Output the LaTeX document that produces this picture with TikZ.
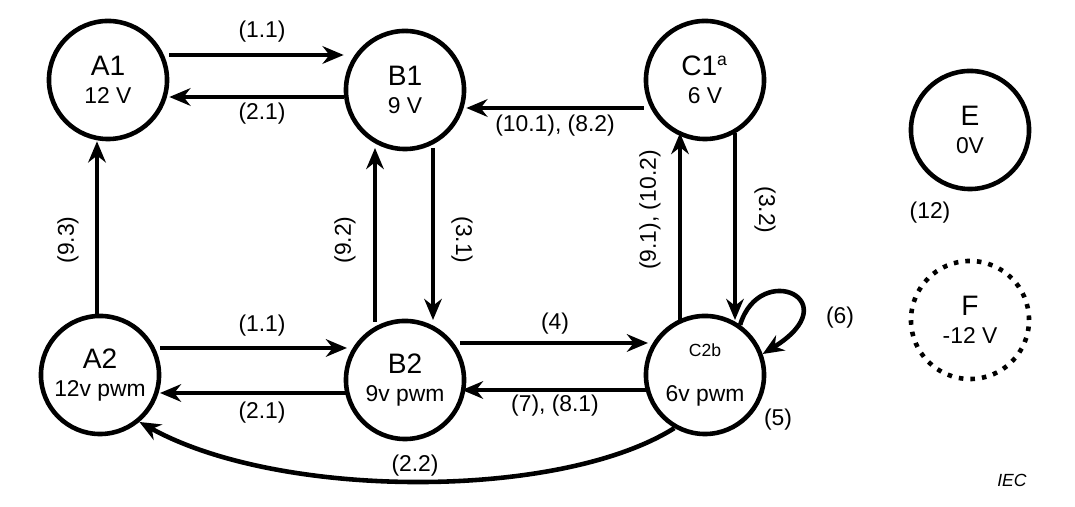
\documentclass[tikz,border=0pt]{standalone}
\usepackage{fontspec}
\setmainfont{Liberation Sans}
\usetikzlibrary{arrows.meta}
\begin{document}
\begin{tikzpicture}[x=0.01cm,y=-0.01cm,
  st/.style={circle,draw,line width=1.3pt,minimum size=1.18cm,inner sep=0pt,align=center,font=\fontsize{8}{9}\selectfont},
  ar/.style={line width=1.3pt,-{Stealth[length=6pt,width=5pt]}},
  lb/.style={font=\fontsize{6.5}{7}\selectfont}]
\useasboundingbox (0,0) rectangle (1075,507);
\node[st] (A1) at (108,80) {A1\\[-1pt]{\fontsize{6.5}{7}\selectfont 12 V}};
\node[st] (B1) at (405,90) {B1\\[-1pt]{\fontsize{6.5}{7}\selectfont 9 V}};
\node[st] (C1) at (705,80) {C1\textsuperscript{\fontsize{5}{5}\selectfont a}\\[-1pt]{\fontsize{6.5}{7}\selectfont 6 V}};
\node[st] (E) at (970,130) {E\\[-1pt]{\fontsize{6.5}{7}\selectfont 0V}};
\node[st] (A2) at (100,375) {A2\\[-1pt]{\fontsize{6.5}{7}\selectfont 12v pwm}};
\node[st] (B2) at (405,380) {B2\\[-1pt]{\fontsize{6.5}{7}\selectfont 9v pwm}};
\node[st] (C2) at (705,375) {{\fontsize{5}{5}\selectfont C2b}\\[4pt]{\fontsize{6.5}{7}\selectfont 6v pwm}};
\node[st,dotted,line width=1.3pt] (F) at (970,320) {F\\[-1pt]{\fontsize{6.5}{7}\selectfont -12 V}};
% top row
\draw[ar] (A1.east |- 0,55) -- (B1.west |- 0,55);
\draw[ar] (B1.west |- 0,97) -- (A1.east |- 0,97);
\node[lb] (l11) at (262,32) {(1.1)};
\node[lb] (l21) at (262,114) {(2.1)};
\draw[ar] (C1.west |- 0,108) -- (B1.east |- 0,108);
\node[lb] (l101) at (555,126) {(10.1), (8.2)};
% verticals
\draw[ar] (A2.north -| 97,0) -- (A1.south -| 97,0);
\node[lb,rotate=90] (l93) at (68,240) {(9.3)};
\draw[ar] (375,322) -- (375,148);
\draw[ar] (433,148) -- (433,320);
\node[lb,rotate=90] (l92) at (345,240) {(9.2)};
\node[lb,rotate=-90] (l31) at (462,240) {(3.1)};
\draw[ar] (680,320) -- (680,133);
\draw[ar] (735,133) -- (735,320);
\node[lb,rotate=90] (l91) at (650,210) {(9.1), (10.2)};
\node[lb,rotate=-90] (l32) at (765,210) {(3.2)};
% bottom row
\draw[ar] (160,348) -- (347,348);
\draw[ar] (347,393) -- (160,393);
\node[lb] (b11) at (262,326) {(1.1)};
\node[lb] (b21) at (262,413) {(2.1)};
\draw[ar] (460,343) -- (648,343);
\draw[ar] (648,390) -- (462,390);
\node[lb] (l4) at (555,324) {(4)};
\node[lb] (l7) at (555,406) {(7), (8.1)};
% self loop
\draw[ar] (C2.55) .. controls (760,260) and (850,300) .. (C2.20);
\node[lb] (l6) at (840,318) {(6)};
\node[lb] (l5) at (778,420) {(5)};
\node[lb] (l12) at (930,213) {(12)};
% bottom curve
\draw[ar] (C2.240) .. controls (560,500) and (280,500) .. (A2.-50);
\node[lb] (l22) at (415,466) {(2.2)};
\node[font=\fontsize{5}{6}\selectfont\itshape] (iec) at (1012,480) {IEC};
\end{tikzpicture}
\end{document}
